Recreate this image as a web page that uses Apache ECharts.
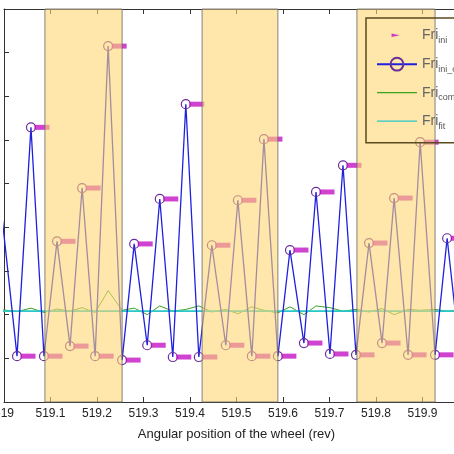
<!DOCTYPE html>
<html><head><meta charset="utf-8">
<script src="https://cdn.jsdelivr.net/npm/echarts@6/dist/echarts.min.js"></script>
<style>html,body{margin:0;padding:0;background:#fff;overflow:hidden}#c{width:454px;height:454px}</style>
</head><body><div id="c"></div>
<script>
const xPos = [518.991,519.028,519.058,519.086,519.114,519.142,519.168,519.196,519.224,519.254,519.280,519.308,519.335,519.363,519.391,519.419,519.447,519.477,519.503,519.533,519.559,519.589,519.615,519.645,519.671,519.701,519.729,519.757,519.785,519.813,519.839,519.869,519.895,519.927,519.953,519.981];
const friIni = [4.71,1.05,6.29,1.05,3.68,1.28,4.90,1.05,8.15,0.96,3.62,1.30,4.65,1.03,6.82,1.03,3.59,1.30,4.62,1.05,6.02,1.05,3.48,1.35,4.81,1.10,5.42,1.08,3.64,1.35,4.67,1.08,5.95,1.08,3.75,1.05];
const friCom = [2.12,2.07,2.15,2.05,2.13,2.08,2.16,2.05,2.55,2.10,2.15,2.00,2.20,2.08,2.12,2.20,2.06,2.12,2.02,2.18,2.10,2.04,2.18,2.00,2.20,2.16,2.08,2.12,2.06,2.14,2.00,2.12,2.10,2.12,2.08,2.10];
const friFit = [2.08,2.08,2.08,2.08,2.08,2.08,2.08,2.08,2.08,2.08,2.08,2.08,2.08,2.08,2.08,2.08,2.08,2.08,2.08,2.08,2.08,2.08,2.08,2.08,2.08,2.08,2.08,2.08,2.08,2.08,2.08,2.08,2.08,2.08,2.08,2.08];
const bands = [[519.088,519.254],[519.426,519.589],[519.759,519.927]];

const pair = a => xPos.map((x,i)=>[x,a[i]]);
const chart = echarts.init(document.getElementById('c'));
const sub = {fontSize:9, padding:[10,0,0,0], color:'#555'};
const lineIcon = 'path://M0,6L44,6L44,7.5L0,7.5Z';
chart.setOption({
  animation:false,
  grid:{left:4,right:-15,top:9,bottom:52,outerBoundsMode:'none',containLabel:false},
  xAxis:[{type:'value',min:519,max:520,interval:0.1,
    axisLine:{lineStyle:{color:'#333'}},axisTick:{inside:true,length:5,lineStyle:{color:'#333'}},
    splitLine:{show:false},
    axisLabel:{color:'#222',fontSize:12,fontFamily:'Arial, Liberation Sans',margin:6,
      formatter:v=>v===519?'519':v.toFixed(1)},
    name:'Angular position of the wheel (rev)',nameLocation:'middle',nameGap:26,
    nameTextStyle:{color:'#222',fontSize:13,fontFamily:'Arial, Liberation Sans'}},
   {type:'value',position:'top',min:519,max:520,interval:0.1,axisLabel:{show:false},
    axisLine:{lineStyle:{color:'#333'}},axisTick:{inside:true,length:5,lineStyle:{color:'#333'}},splitLine:{show:false}}],
  yAxis:{type:'value',min:0,max:9,interval:1,axisLabel:{show:false},
    axisLine:{show:true,lineStyle:{color:'#333'}},axisTick:{inside:true,length:5,lineStyle:{color:'#333'}},splitLine:{show:false}},
  legend:{z:30,orient:'vertical',left:366,top:18,itemGap:12,itemWidth:40,itemHeight:16,
    backgroundColor:'transparent',borderColor:'#5a4a20',borderWidth:1.5,padding:[10,12,12,10],
    textStyle:{fontSize:14,color:'#666',rich:{s:sub}},
    data:[{name:'ini',icon:'path://M0,0L0.1,0L0.1,0.1Z M16,6L25,8L16,10Z M43.9,15.9L44,15.9L44,16Z'},{name:'inic'},{name:'com',icon:lineIcon},{name:'fit',icon:lineIcon}],
    formatter:n=>({ini:'Fri{s|ini}',inic:'Fri{s|ini_c}',com:'Fri{s|com}',fit:'Fri{s|fit}'})[n]},
  series:[
    {name:'inic',type:'line',data:pair(friIni),z:3,symbol:'circle',symbolSize:9,
      lineStyle:{color:'#1f1fe0',width:1.3},itemStyle:{color:'rgba(0,0,0,0)',borderColor:'#6a2f9a',borderWidth:1.2}},
    {name:'ini',type:'scatter',data:pair(friIni),z:4,symbol:'rect',symbolSize:[15,5],symbolOffset:[11,0],
      itemStyle:{color:'#c414c4'}},
    {name:'com',type:'line',data:pair(friCom),z:2,symbol:'none',lineStyle:{color:'#3aa41e',width:1},itemStyle:{color:'#3aa41e'}},
    {name:'fit',type:'line',data:pair(friFit),z:2,symbol:'none',lineStyle:{color:'#28c8c8',width:1.6},itemStyle:{color:'#28c8c8'}},
    {name:'bands',type:'custom',data:bands,z:20,silent:true,
      renderItem:(params,api)=>{
        const p0=api.coord([api.value(0),9]), p1=api.coord([api.value(1),0]);
        return {type:'rect',shape:{x:p0[0],y:p0[1],width:p1[0]-p0[0],height:p1[1]-p0[1]},
          style:{fill:'rgba(255,214,115,0.6)',stroke:'#666',lineWidth:0.8}};
      }}
  ]
});
</script></body></html>
